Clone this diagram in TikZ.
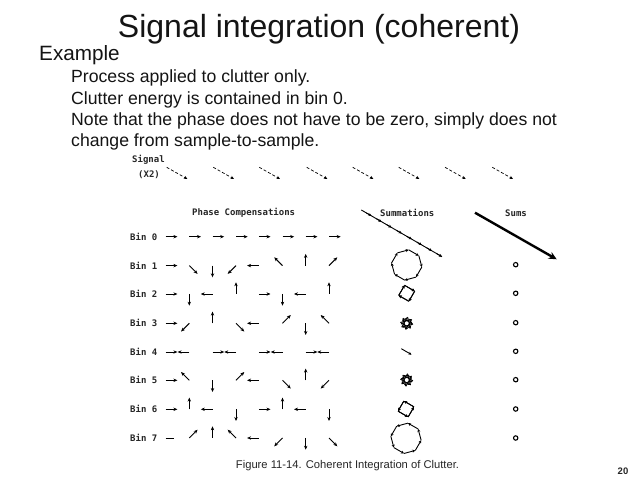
\documentclass[tikz,border=0pt]{standalone}
\usepackage{fontspec}
\setmainfont{Liberation Sans}
\newfontfamily\scanfont{DejaVu Sans Mono}
\usetikzlibrary{arrows.meta,calc}
\tikzset{
  title/.style={anchor=base,inner sep=0pt,text=black!92,font=\fontsize{32}{34}\selectfont},
  lead/.style={anchor=base west,inner sep=0pt,text=black!92,font=\fontsize{20.7}{24}\selectfont},
  body/.style={anchor=base west,inner sep=0pt,text=black!92,font=\fontsize{17.65}{22}\selectfont},
  scan/.style={anchor=west,inner sep=0pt,text=black!85,font=\scanfont\bfseries\fontsize{9}{10}\selectfont},
  caption/.style={anchor=center,inner sep=0pt,text=black!85,font=\fontsize{11.2}{13}\selectfont},
  pageno/.style={anchor=center,inner sep=0pt,text=black!85,font=\bfseries\fontsize{9.5}{11}\selectfont},
  vec/.style={line width=0.95pt,-{Stealth[length=4pt,width=3.4pt]}},
  sig/.style={line width=0.7pt,densely dashed,-{Stealth[length=3.6pt,width=3.2pt]}},
  sumvec/.style={line width=0.9pt,-{Stealth[length=3pt,width=3pt]}},
  ring/.style={draw,line width=1.1pt,circle,minimum size=4.4pt,inner sep=0pt},
  bigvec/.style={line width=2.4pt,-{Stealth[length=8pt,width=7.5pt]}}
}
\begin{document}
\begin{tikzpicture}[x=1pt,y=-1pt]
\useasboundingbox (0,0) rectangle (638,478);
\fill[white] (0,0) rectangle (638,478);
\node[title] (ttl) at (319,38) {Signal integration (coherent)};
\node[lead] (ex) at (39,61) {Example};
\node[body] (l1) at (71,82.7) {Process applied to clutter only.};
\node[body] (l2) at (71,104.3) {Clutter energy is contained in bin 0.};
\node[body] (l3) at (71,125.7) {Note that the phase does not have to be zero, simply does not};
\node[body] (l4) at (71,146.7) {change from sample-to-sample.};
\node[scan] (sg) at (132,160) {Signal};
\node[scan] (x2) at (138,175) {(X2)};
\node[scan] (pc) at (192,213) {Phase Compensations};
\node[scan] (sm) at (380,213) {Summations};
\node[scan] (su) at (505,213) {Sums};
% signal arrows
\foreach \x in {166.7,213.3,259.3,306.7,352.7,398.7,445,492.3}
  \draw[sig] (\x,167.3) -- +(20.7,11.7);
% bins
\foreach \n/\r in {0/236.7,1/265.6,2/294,3/323.3,4/352,5/380.3,6/409.3,7/438}{
  \node[scan] (b\n) at (130,\r) {Bin \n};
  \foreach \k/\c in {0/165.7,1/189.3,2/212.5,3/236,4/258.8,5/282.5,6/305.7,7/329}{
    \pgfmathsetmacro{\ang}{45*\n*\k}
    \ifnum\n\k=70
      \draw[line width=0.95pt] (\c,\r) -- +(\ang:8);
    \else
      \draw[vec] (\c,\r) -- +(\ang:11.7);
    \fi
  }
}
% summations
\draw[sumvec,-] (361.3,210) -- (442,256.7);
\foreach \k in {1,...,8}
  \draw[sumvec] ($(361.3,210)!{(\k-0.5)/8}!(442,256.7)$) -- ($(361.3,210)!{\k/8}!(442,256.7)$);
\foreach \n/\cx/\cy in {1/406.7/265,2/406.7/293.3,3/406.7/323.3,5/406.7/380,6/406/409,7/406/438.3}{
  \pgfmathsetmacro{\th}{45*\n}
  \pgfmathsetmacro{\rad}{11.7/(2*sin(\th/2))}
  \foreach \k in {0,...,7}{
    \pgfmathsetmacro{\aone}{30+\th*\k-90-\th/2}
    \pgfmathsetmacro{\atwo}{\aone+\th}
    \draw[sumvec] (\cx,\cy) ++(\aone:\rad) -- ($(\cx,\cy)+(\atwo:\rad)$);
  }
}
\draw[sumvec] (401.3,348.7) -- (411.5,354.6);
% sums
\foreach \n/\r in {1/264.7,2/293.3,3/322.7,4/351.3,5/379.7,6/409,7/438}
  \node[ring] (r\n) at (515.7,\r) {};
\draw[bigvec] (475,212.7) -- (556.7,259.3);
\node[caption] (cap) at (347.5,465.5) {Figure 11-14. Coherent Integration of Clutter.};
\node[pageno] (pg) at (623,471) {20};
\end{tikzpicture}
\end{document}
